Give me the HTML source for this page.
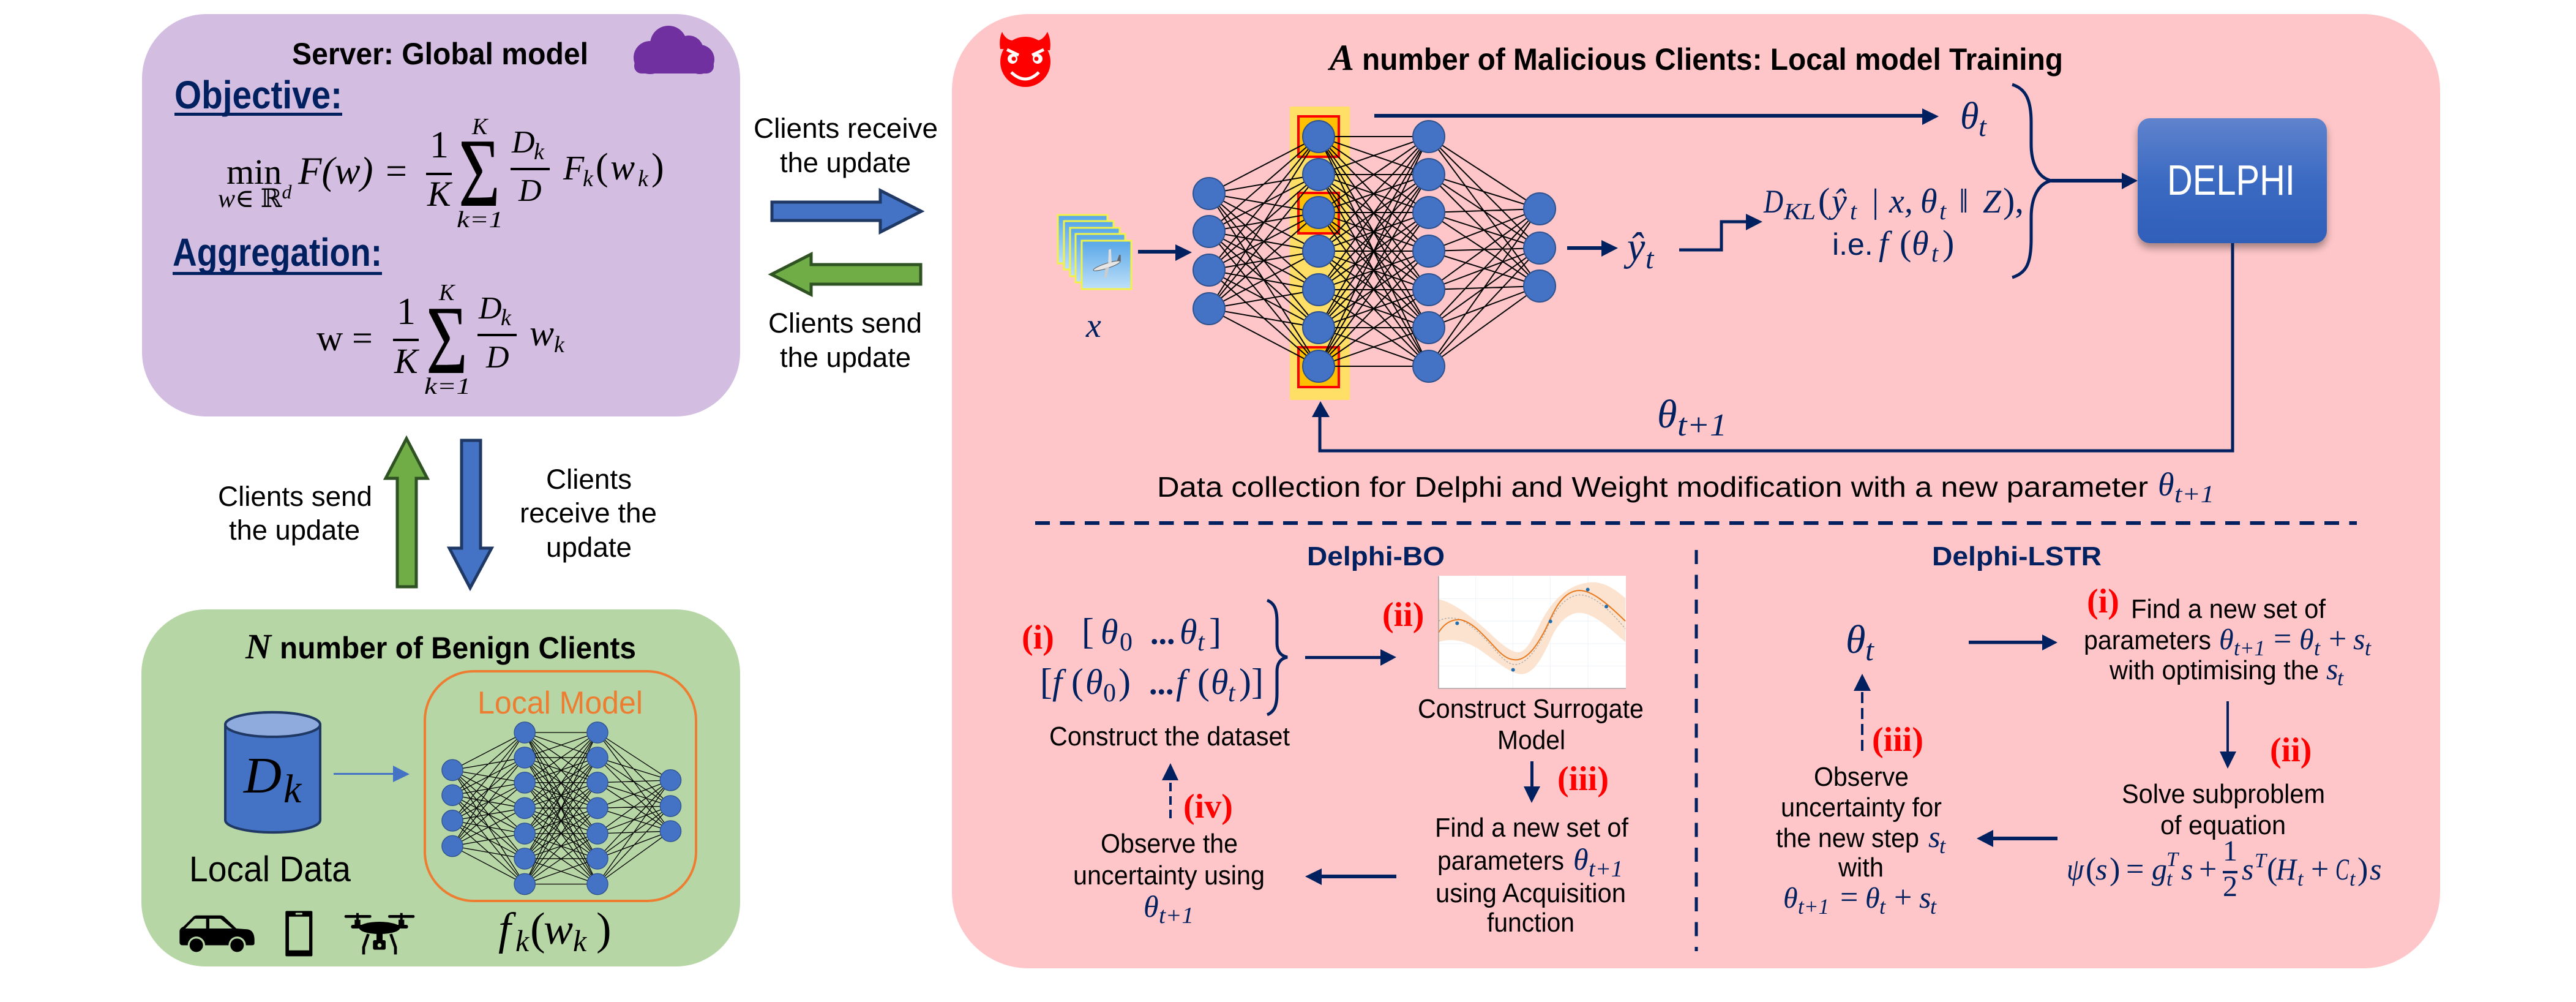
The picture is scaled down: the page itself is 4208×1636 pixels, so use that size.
<!DOCTYPE html>
<html><head><meta charset="utf-8"><style>
html,body{margin:0;padding:0;background:#fff}
svg{display:block}
.s{font-family:"Liberation Sans",sans-serif;font-size:45px;fill:#000}
.t{font-family:"Liberation Sans",sans-serif;font-weight:bold;font-size:50px;fill:#000}
.h{font-family:"Liberation Sans",sans-serif;font-weight:bold;fill:#002060}
.m{font-family:"Liberation Serif","DejaVu Serif",serif;font-style:italic;fill:#000}
.u{font-family:"Liberation Serif","DejaVu Serif",serif;fill:#000}
.n{fill:#002060}
.r{font-family:"Liberation Serif",serif;font-weight:bold;font-size:56px;fill:#f00}
.l{stroke:#002060;fill:none;stroke-width:5}
.a{fill:#002060}
</style></head><body>
<svg xmlns="http://www.w3.org/2000/svg" xmlns:xlink="http://www.w3.org/1999/xlink" width="4208" height="1636" viewBox="0 0 4208 1636">
<defs>
<linearGradient id="sky" x1="0" y1="0" x2="0" y2="1"><stop offset="0" stop-color="#57a6e8"/><stop offset="1" stop-color="#bfe0f8"/></linearGradient>
<linearGradient id="del" x1="0" y1="0" x2="0" y2="1"><stop offset="0" stop-color="#5f83cd"/><stop offset=".5" stop-color="#3b6ac2"/><stop offset="1" stop-color="#2f5fb9"/></linearGradient>
<filter id="sh" x="-10%" y="-10%" width="125%" height="125%"><feDropShadow dx="0" dy="8" stdDeviation="6" flood-color="#000" flood-opacity=".35"/></filter>
<g id="net">
<path fill="none" stroke="#000" stroke-width="2" d="
M0 93L179 0L0 93L179 62L0 93L179 124L0 93L179 187L0 93L179 250L0 93L179 312L0 93L179 375
M0 155L179 0L0 155L179 62L0 155L179 124L0 155L179 187L0 155L179 250L0 155L179 312L0 155L179 375
M0 218L179 0L0 218L179 62L0 218L179 124L0 218L179 187L0 218L179 250L0 218L179 312L0 218L179 375
M0 281L179 0L0 281L179 62L0 281L179 124L0 281L179 187L0 281L179 250L0 281L179 312L0 281L179 375
M179 0L359 0L179 0L359 62L179 0L359 124L179 0L359 187L179 0L359 250L179 0L359 312L179 0L359 375
M179 62L359 0L179 62L359 62L179 62L359 124L179 62L359 187L179 62L359 250L179 62L359 312L179 62L359 375
M179 124L359 0L179 124L359 62L179 124L359 124L179 124L359 187L179 124L359 250L179 124L359 312L179 124L359 375
M179 187L359 0L179 187L359 62L179 187L359 124L179 187L359 187L179 187L359 250L179 187L359 312L179 187L359 375
M179 250L359 0L179 250L359 62L179 250L359 124L179 250L359 187L179 250L359 250L179 250L359 312L179 250L359 375
M179 312L359 0L179 312L359 62L179 312L359 124L179 312L359 187L179 312L359 250L179 312L359 312L179 312L359 375
M179 375L359 0L179 375L359 62L179 375L359 124L179 375L359 187L179 375L359 250L179 375L359 312L179 375L359 375
M540 118L359 0L540 118L359 62L540 118L359 124L540 118L359 187L540 118L359 250L540 118L359 312L540 118L359 375
M540 182L359 0L540 182L359 62L540 182L359 124L540 182L359 187L540 182L359 250L540 182L359 312L540 182L359 375
M540 244L359 0L540 244L359 62L540 244L359 124L540 244L359 187L540 244L359 250L540 244L359 312L540 244L359 375"/>
<g fill="#4472c4" stroke="#2f528f" stroke-width="2">
<circle cx="0" cy="93" r="26"/><circle cx="0" cy="155" r="26"/><circle cx="0" cy="218" r="26"/><circle cx="0" cy="281" r="26"/>
<circle cx="179" cy="0" r="26"/><circle cx="179" cy="62" r="26"/><circle cx="179" cy="124" r="26"/><circle cx="179" cy="187" r="26"/><circle cx="179" cy="250" r="26"/><circle cx="179" cy="312" r="26"/><circle cx="179" cy="375" r="26"/>
<circle cx="359" cy="0" r="26"/><circle cx="359" cy="62" r="26"/><circle cx="359" cy="124" r="26"/><circle cx="359" cy="187" r="26"/><circle cx="359" cy="250" r="26"/><circle cx="359" cy="312" r="26"/><circle cx="359" cy="375" r="26"/>
<circle cx="540" cy="118" r="26"/><circle cx="540" cy="182" r="26"/><circle cx="540" cy="244" r="26"/>
</g>
</g>
</defs>

<!-- panels -->
<rect x="232" y="23" width="977" height="657" rx="105" ry="105" fill="#d3bde1"/>
<rect x="231" y="995" width="978" height="583" rx="105" ry="105" fill="#b7d6a5"/>
<rect x="1555" y="23" width="2431" height="1558" rx="125" ry="125" fill="#fec6c8"/>

<!-- server -->
<text class="t" x="477" y="105" textLength="484" lengthAdjust="spacingAndGlyphs">Server: Global model</text>
<g fill="#7030a0"><circle cx="1062" cy="94" r="27"/><circle cx="1092" cy="72" r="30"/><circle cx="1125" cy="82" r="24"/><circle cx="1143" cy="97" r="24"/><rect x="1036" y="95" width="130" height="25" rx="12"/></g>
<text class="h" font-size="64" x="285" y="177" textLength="274" lengthAdjust="spacingAndGlyphs">Objective:</text>
<rect x="285" y="184" width="274" height="5" fill="#002060"/>
<text class="h" font-size="64" x="282" y="434" textLength="342" lengthAdjust="spacingAndGlyphs">Aggregation:</text>
<rect x="282" y="444" width="342" height="5" fill="#002060"/>

<text class="u" font-size="58" x="370" y="300">min</text>
<text class="m" font-size="42" x="356" y="338">w∈ <tspan font-style="normal" font-family="DejaVu Serif">ℝ</tspan><tspan font-size="32" dy="-14">d</tspan></text>
<text class="m" font-size="63" x="487" y="300">F(w)</text>
<text class="u" font-size="62" x="630" y="300">=</text>
<text class="u" font-size="62" x="702" y="257">1</text>
<rect x="696" y="282" width="42" height="4"/>
<text class="m" font-size="58" x="698" y="336">K</text>
<text class="u" font-size="160" transform="translate(749,336) scale(.73,1)" x="0" y="0">Σ</text>
<text class="m" font-size="38" x="771" y="219">K</text>
<text class="m" font-size="38" x="746" y="371" textLength="76" lengthAdjust="spacingAndGlyphs">k=1</text>
<text class="m" font-size="52" x="836" y="249">D</text><text class="m" font-size="38" x="872" y="260">k</text>
<rect x="834" y="274" width="64" height="4"/>
<text class="m" font-size="52" x="847" y="328">D</text>
<text class="m" font-size="56" x="920" y="293">F</text><text class="m" font-size="38" x="952" y="304">k</text>
<text class="u" font-size="62" x="973" y="293">(</text><text class="m" font-size="60" x="997" y="293">w</text><text class="m" font-size="38" x="1042" y="304">k</text><text class="u" font-size="62" x="1064" y="293">)</text>

<text class="u" font-size="60" x="517" y="572">w</text>
<text class="u" font-size="60" x="575" y="572">=</text>
<text class="u" font-size="62" x="648" y="529">1</text>
<rect x="642" y="553" width="42" height="4"/>
<text class="m" font-size="58" x="644" y="609">K</text>
<text class="u" font-size="160" transform="translate(696,609) scale(.73,1)" x="0" y="0">Σ</text>
<text class="m" font-size="38" x="717" y="490">K</text>
<text class="m" font-size="38" x="693" y="643" textLength="76" lengthAdjust="spacingAndGlyphs">k=1</text>
<text class="m" font-size="52" x="782" y="520">D</text><text class="m" font-size="38" x="818" y="531">k</text>
<rect x="780" y="545" width="64" height="4"/>
<text class="m" font-size="52" x="794" y="600">D</text>
<text class="m" font-size="60" x="865" y="564">w</text><text class="m" font-size="38" x="905" y="575">k</text>

<!-- server <-> malicious -->
<text class="s" x="1231" y="225" textLength="301" lengthAdjust="spacingAndGlyphs">Clients receive</text>
<text class="s" x="1274" y="281" textLength="214" lengthAdjust="spacingAndGlyphs">the update</text>
<polygon points="1261,330 1438,330 1438,311 1505,345 1438,379 1438,360 1261,360" fill="#4472c4" stroke="#1f3864" stroke-width="5"/>
<polygon points="1504,432 1325,432 1325,415 1260,448 1325,481 1325,464 1504,464" fill="#70ad47" stroke="#2f5223" stroke-width="5"/>
<text class="s" x="1255" y="543" textLength="251" lengthAdjust="spacingAndGlyphs">Clients send</text>
<text class="s" x="1274" y="599" textLength="214" lengthAdjust="spacingAndGlyphs">the update</text>

<!-- server <-> benign -->
<polygon points="664,716 698,781 680,781 680,958 649,958 649,781 630,781" fill="#70ad47" stroke="#2f5223" stroke-width="5"/>
<polygon points="754,719 785,719 785,895 803,895 768,960 734,895 754,895" fill="#4472c4" stroke="#1f3864" stroke-width="5"/>
<text class="s" x="356" y="826" textLength="252" lengthAdjust="spacingAndGlyphs">Clients send</text>
<text class="s" x="374" y="881" textLength="214" lengthAdjust="spacingAndGlyphs">the update</text>
<text class="s" x="892" y="798" textLength="140" lengthAdjust="spacingAndGlyphs">Clients</text>
<text class="s" x="849" y="853" textLength="224" lengthAdjust="spacingAndGlyphs">receive the</text>
<text class="s" x="892" y="909" textLength="140" lengthAdjust="spacingAndGlyphs">update</text>

<!-- benign -->
<text class="m" font-size="58" font-weight="bold" x="401" y="1075">N</text>
<text class="t" x="457" y="1075" textLength="582" lengthAdjust="spacingAndGlyphs">number of Benign Clients</text>
<rect x="694" y="1096" width="443" height="375" rx="80" ry="80" fill="none" stroke="#ed7d31" stroke-width="4"/>
<text class="s" style="fill:#ed7d31;font-size:52px" x="780" y="1165" textLength="270" lengthAdjust="spacingAndGlyphs">Local Model</text>
<path d="M368 1183 L368 1339 A77 20 0 0 0 523 1339 L523 1183 A77 20 0 0 0 368 1183Z" fill="#4472c4" stroke="#1f3864" stroke-width="4"/>
<ellipse cx="445.500" cy="1183" rx="77.500" ry="20" fill="#8faadc" stroke="#1f3864" stroke-width="4"/>
<text class="m" font-size="84" x="398" y="1294" textLength="62" lengthAdjust="spacingAndGlyphs">D</text>
<text class="m" font-size="66" x="463" y="1310">k</text>
<rect x="545" y="1262" width="100" height="3" fill="#4472c4"/><polygon points="642,1250 669,1264 642,1277" fill="#4472c4"/>
<use xlink:href="#net" href="#net" transform="translate(739,1196) scale(.66)"/>
<text class="s" style="font-size:58px" x="309" y="1439" textLength="264" lengthAdjust="spacingAndGlyphs">Local Data</text>
<g transform="translate(280,1480) scale(.33333)">
<path fill="#000" d="M40 120Q40 108 60 98L108 50Q115 44 125 44L240 44Q250 44 258 50L318 108L375 112Q405 118 407 160L407 180Q407 190 395 190L365 190A42 42 0 0 0 280 190L165 190A42 42 0 0 0 80 190L55 190Q40 190 40 175Z"/>
<path fill="#b7d6a5" d="M68 108L115 60L170 60L170 108ZM186 60L240 60L298 108L186 108Z"/>
<circle cx="122" cy="190" r="33"/><circle cx="322" cy="190" r="33"/>
<rect x="559" y="22" width="132" height="222" rx="6"/><rect x="576" y="50" width="99" height="165" fill="#b7d6a5"/><rect x="608" y="31" width="34" height="9" rx="4" fill="#b7d6a5"/>
<rect x="848" y="42" width="132" height="14" rx="7"/><rect x="1062" y="42" width="130" height="14" rx="7"/>
<rect x="906" y="32" width="12" height="60"/><rect x="1121" y="32" width="12" height="60"/>
<rect x="898" y="65" width="28" height="30"/><rect x="1113" y="65" width="28" height="30"/>
<rect x="880" y="90" width="280" height="18" rx="9"/><ellipse cx="1020" cy="105" rx="100" ry="30"/>
<path d="M965 135L942 200L942 235M1075 135L1098 200L1098 235" fill="none" stroke="#000" stroke-width="14"/>
<rect x="1005" y="130" width="30" height="40"/><rect x="988" y="165" width="62" height="47" rx="8"/><circle cx="1020" cy="190" r="10" fill="#b7d6a5"/>
</g>
<text class="m" font-size="74" x="814" y="1541">f</text><text class="m" font-size="50" x="842" y="1553">k</text>
<text class="u" font-size="74" x="866" y="1541">(</text><text class="m" font-size="72" x="888" y="1541">w</text><text class="m" font-size="50" x="936" y="1553">k</text><text class="u" font-size="74" x="974" y="1541">)</text>

<!-- malicious header -->
<g fill="#f00">
<path d="M1634 80C1632 68 1634 58 1637 52C1641 62 1650 68 1660 66L1690 66C1698 68 1706 62 1711 52C1715 60 1717 70 1715 82Z"/>
<ellipse cx="1675" cy="101" rx="41" ry="41"/>
</g>
<g fill="#fff"><circle cx="1654" cy="96" r="8"/><circle cx="1695" cy="96" r="8"/></g>
<g fill="#f00"><circle cx="1656" cy="96" r="3.500"/><circle cx="1693" cy="96" r="3.500"/></g>
<path d="M1645 81L1664 90M1705 81L1686 90M1652 118Q1675 140 1697 118" fill="none" stroke="#fff" stroke-width="5"/>
<text class="m" font-size="60" font-weight="bold" x="2172" y="114">A</text>
<text class="t" x="2225" y="114" textLength="1145" lengthAdjust="spacingAndGlyphs">number of Malicious Clients: Local model Training</text>

<!-- images -->
<g stroke="#f0f24a" stroke-width="3" fill="url(#sky)">
<rect x="1728" y="351" width="81" height="79"/><rect x="1738" y="361" width="81" height="79"/><rect x="1748" y="372" width="81" height="79"/><rect x="1757" y="382" width="81" height="79"/><rect x="1767" y="393" width="81" height="79"/>
</g>
<g transform="translate(1808,434) rotate(-18)">
<ellipse cx="0" cy="0" rx="23" ry="4" fill="#e6e6e6" stroke="#555" stroke-width="1"/>
<polygon points="3,-2 11,-24 15,-24 9,-2" fill="#ddd"/>
<polygon points="-3,2 -10,18 -6,18 3,3" fill="#ccc"/>
<polygon points="18,-2 25,-11 27,-10 24,0" fill="#666"/>
</g>
<text class="m n" font-size="56" x="1774" y="550">x</text>
<rect x="1859" y="408" width="65" height="6" fill="#002060"/><polygon class="a" points="1920,399 1947,412 1920,426"/>

<!-- big network -->
<rect x="2107" y="174" width="98" height="479" fill="#ffdf66"/>
<g fill="#ffc000" stroke="#f00" stroke-width="4">
<rect x="2121" y="190" width="66" height="66"/><rect x="2121" y="315" width="66" height="66"/><rect x="2121" y="567" width="66" height="65"/>
</g>
<use xlink:href="#net" href="#net" transform="translate(1975,223)"/>

<!-- top arrows -->
<rect x="2245" y="186" width="900" height="6" fill="#002060"/><polygon class="a" points="3140,177 3167,190 3140,204"/>
<text class="m n" font-size="62" x="3202" y="210">θ</text><text class="m n" font-size="46" x="3232" y="222">t</text>
<rect x="2560" y="402" width="60" height="6" fill="#002060"/><polygon class="a" points="2616,392 2643,405 2616,419"/>
<text class="m n" font-size="66" x="2658" y="425">ŷ</text><text class="m n" font-size="48" x="2688" y="438">t</text>
<path class="l" d="M2743 408L2812 408L2812 362L2856 362"/><polygon class="a" points="2852,349 2879,362 2852,376"/>
<g class="n">
<text class="m n" font-size="54" x="2881" y="347" textLength="32" lengthAdjust="spacingAndGlyphs">D</text><text class="m n" font-size="38" x="2914" y="358" textLength="52" lengthAdjust="spacingAndGlyphs">KL</text>
<text class="u n" font-size="58" x="2970" y="347">(</text><text class="m n" font-size="56" x="2992" y="347">ŷ</text><text class="m n" font-size="40" x="3022" y="358">t</text>
<text class="u n" font-size="56" x="3058" y="347">|</text><text class="m n" font-size="56" x="3086" y="347">x,</text><text class="m n" font-size="56" x="3137" y="347">θ</text><text class="m n" font-size="40" x="3168" y="358">t</text>
<text class="u n" font-size="56" x="3200" y="347">‖</text><text class="m n" font-size="54" x="3239" y="347" textLength="30" lengthAdjust="spacingAndGlyphs">Z</text><text class="u n" font-size="58" x="3272" y="347">),</text>
<text class="s n" style="font-size:50px" x="2993" y="416">i.e.</text><text class="m n" font-size="56" x="3069" y="416">f</text><text class="u n" font-size="58" x="3103" y="416">(</text><text class="m n" font-size="56" x="3123" y="416">θ</text><text class="m n" font-size="40" x="3155" y="427">t</text><text class="u n" font-size="58" x="3173" y="416">)</text>
</g>
<path class="l" d="M3287 138C3310 145 3318 165 3318 200L3318 235C3318 265 3328 290 3351 295C3328 300 3318 325 3318 355L3318 390C3318 430 3310 446 3287 453"/>
<rect x="3351" y="292" width="120" height="6" fill="#002060"/><polygon class="a" points="3466,282 3492,295 3466,309"/>
<rect x="3492" y="193" width="309" height="204" rx="20" ry="20" fill="url(#del)" filter="url(#sh)"/>
<text class="s" style="fill:#fff;font-size:70px" x="3540" y="318" textLength="209" lengthAdjust="spacingAndGlyphs">DELPHI</text>
<path class="l" d="M3647 397L3647 736L2156 736L2156 676"/><polygon class="a" points="2143,681 2157,655 2172,681"/>
<text class="m n" font-size="66" x="2707" y="698">θ</text><text class="m n" font-size="52" x="2740" y="711" textLength="81" lengthAdjust="spacingAndGlyphs">t+1</text>
<text class="s" style="font-size:46px" x="1890" y="811" textLength="1619" lengthAdjust="spacingAndGlyphs">Data collection for Delphi and Weight modification with a new parameter</text>
<text class="m n" font-size="54" x="3525" y="809">θ</text><text class="m n" font-size="40" x="3552" y="820" textLength="65" lengthAdjust="spacingAndGlyphs">t+1</text>

<!-- dividers -->
<path d="M1691 854L3850 854" stroke="#002060" stroke-width="6" stroke-dasharray="24 16.500" fill="none"/>
<path d="M2771 898L2771 1553" stroke="#002060" stroke-width="5" stroke-dasharray="23 17.500" fill="none"/>

<!-- Delphi-BO -->
<text class="h" font-size="44" x="2135" y="923" textLength="225" lengthAdjust="spacingAndGlyphs">Delphi-BO</text>
<text class="r" x="1669" y="1059">(i)</text>
<text class="u n" font-size="60" x="1767" y="1051">[</text><text class="m n" font-size="58" x="1798" y="1051">θ</text><text class="u n" font-size="42" x="1829" y="1062">0</text>
<text class="u n" font-size="54" font-weight="bold" x="1879" y="1051">...</text><text class="m n" font-size="58" x="1927" y="1051">θ</text><text class="m n" font-size="42" x="1956" y="1062">t</text><text class="u n" font-size="60" x="1975" y="1051">]</text>
<text class="u n" font-size="60" x="1699" y="1133">[</text><text class="m n" font-size="58" x="1719" y="1133">f</text><text class="u n" font-size="60" x="1750" y="1133">(</text><text class="m n" font-size="58" x="1773" y="1133">θ</text><text class="u n" font-size="42" x="1802" y="1145">0</text><text class="u n" font-size="60" x="1827" y="1133">)</text>
<text class="u n" font-size="54" font-weight="bold" x="1877" y="1133">...</text><text class="m n" font-size="58" x="1921" y="1133">f</text><text class="u n" font-size="60" x="1956" y="1133">(</text><text class="m n" font-size="58" x="1978" y="1133">θ</text><text class="m n" font-size="42" x="2006" y="1145">t</text><text class="u n" font-size="60" x="2024" y="1133">)]</text>
<path class="l" d="M2070 980C2082 985 2086 995 2086 1015L2086 1050C2086 1063 2092 1071 2103 1073C2092 1075 2086 1083 2086 1096L2086 1132C2086 1152 2082 1162 2070 1167"/>
<rect x="2132" y="1071" width="128" height="5" fill="#002060"/><polygon class="a" points="2255,1060 2281,1073 2255,1087"/>
<text class="r" x="2258" y="1022">(ii)</text>
<rect x="2350" y="940" width="306" height="184" fill="#fff"/>
<g transform="translate(2340,930) scale(.33333)">
<path d="M212 32V582M394 32V582M577 32V582M762 32V582M30 142H948M30 252H948M30 363H948M30 473H948" stroke="#eef3f8" stroke-width="3" fill="none"/>
<path d="M30 145C100 160 180 220 280 310C340 370 390 405 420 405C460 405 490 340 530 260C590 140 680 62 790 62C850 65 900 100 945 140L945 355C870 290 790 212 720 212C660 212 610 270 580 340C530 450 490 512 435 512C380 512 290 430 220 385C150 345 90 335 30 355Z" fill="#fce3cf"/>
<path d="M30 252C60 235 90 235 120 240C190 260 270 350 330 420C360 450 380 465 405 465C460 465 520 380 560 290C600 190 660 122 730 124C800 130 880 210 945 290" fill="none" stroke="#a9a9a9" stroke-width="4" stroke-dasharray="8 8"/>
<path d="M30 308C60 260 95 245 130 245C190 250 250 320 310 385C350 430 380 442 410 442C470 440 520 360 560 280C600 190 640 105 720 102C780 102 850 160 945 252" fill="none" stroke="#e8791f" stroke-width="6"/>
<g fill="#1f6fb0"><circle cx="121" cy="263" r="9"/><circle cx="395" cy="491" r="9"/><circle cx="578" cy="254" r="9"/><circle cx="761" cy="98" r="9"/><circle cx="852" cy="181" r="9"/></g>
<path d="M30 32V582H948" stroke="#999" stroke-width="4" fill="none"/>
</g>
<text class="s" style="font-size:44px" x="1714" y="1217" textLength="393" lengthAdjust="spacingAndGlyphs">Construct the dataset</text>
<text class="s" style="font-size:44px" x="2316" y="1172" textLength="369" lengthAdjust="spacingAndGlyphs">Construct Surrogate</text>
<text class="s" style="font-size:44px" x="2446" y="1223" textLength="111" lengthAdjust="spacingAndGlyphs">Model</text>
<rect x="2500" y="1243" width="5" height="45" fill="#002060"/><polygon class="a" points="2489,1284 2516,1284 2502,1311"/>
<text class="r" x="2544" y="1290">(iii)</text>
<text class="s" style="font-size:44px" x="2344" y="1366" textLength="316" lengthAdjust="spacingAndGlyphs">Find a new set of</text>
<text class="s" style="font-size:44px" x="2348" y="1420" textLength="207" lengthAdjust="spacingAndGlyphs">parameters</text>
<text class="m n" font-size="50" x="2570" y="1420">θ</text><text class="m n" font-size="38" x="2595" y="1431" textLength="56" lengthAdjust="spacingAndGlyphs">t+1</text>
<text class="s" style="font-size:44px" x="2345" y="1473" textLength="311" lengthAdjust="spacingAndGlyphs">using Acquisition</text>
<text class="s" style="font-size:44px" x="2429" y="1521" textLength="143" lengthAdjust="spacingAndGlyphs">function</text>
<rect x="2155" y="1428" width="126" height="6" fill="#002060"/><polygon class="a" points="2159,1418 2159,1445 2132,1431"/>
<text class="s" style="font-size:44px" x="1798" y="1392" textLength="224" lengthAdjust="spacingAndGlyphs">Observe the</text>
<text class="s" style="font-size:44px" x="1753" y="1444" textLength="313" lengthAdjust="spacingAndGlyphs">uncertainty using</text>
<text class="m n" font-size="50" x="1868" y="1497">θ</text><text class="m n" font-size="38" x="1893" y="1507" textLength="57" lengthAdjust="spacingAndGlyphs">t+1</text>
<path d="M1912 1336L1912 1272" stroke="#002060" stroke-width="4" stroke-dasharray="14 8" fill="none"/><polygon class="a" points="1898,1274 1912,1246 1925,1274"/>
<text class="r" x="1933" y="1335">(iv)</text>

<!-- Delphi-LSTR -->
<text class="h" font-size="44" x="3156" y="923" textLength="277" lengthAdjust="spacingAndGlyphs">Delphi-LSTR</text>
<text class="m n" font-size="66" x="3015" y="1066">θ</text><text class="m n" font-size="50" x="3047" y="1078">t</text>
<rect x="3216" y="1046" width="124" height="5.500" fill="#002060"/><polygon class="a" points="3336,1036 3361,1049 3336,1062"/>
<text class="r" x="3409" y="1000">(i)</text>
<text class="s" style="font-size:44px" x="3481" y="1009" textLength="318" lengthAdjust="spacingAndGlyphs">Find a new set of</text>
<text class="s" style="font-size:44px" x="3404" y="1060" textLength="208" lengthAdjust="spacingAndGlyphs">parameters</text>
<text class="m n" font-size="48" x="3625" y="1060">θ</text><text class="m n" font-size="36" x="3649" y="1070" textLength="51" lengthAdjust="spacingAndGlyphs">t+1</text>
<text class="u n" font-size="52" x="3714" y="1060">=</text><text class="m n" font-size="48" x="3756" y="1060">θ</text><text class="m n" font-size="36" x="3780" y="1070">t</text>
<text class="u n" font-size="52" x="3804" y="1060">+</text><text class="m n" font-size="50" x="3844" y="1060">s</text><text class="m n" font-size="36" x="3863" y="1070">t</text>
<text class="s" style="font-size:44px" x="3446" y="1109" textLength="342" lengthAdjust="spacingAndGlyphs">with optimising the</text>
<text class="m n" font-size="50" x="3800" y="1109">s</text><text class="m n" font-size="36" x="3818" y="1119">t</text>
<rect x="3637" y="1145" width="4" height="85" fill="#002060"/><polygon class="a" points="3626,1227 3653,1227 3639,1255"/>
<text class="r" x="3708" y="1243">(ii)</text>
<text class="s" style="font-size:44px" x="3466" y="1311" textLength="332" lengthAdjust="spacingAndGlyphs">Solve subproblem</text>
<text class="s" style="font-size:44px" x="3529" y="1362" textLength="205" lengthAdjust="spacingAndGlyphs">of equation</text>
<text class="m n" font-size="50" x="3376" y="1436" textLength="28" lengthAdjust="spacingAndGlyphs">ψ</text><text class="u n" font-size="52" x="3407" y="1436">(</text><text class="m n" font-size="50" x="3423" y="1436">s</text><text class="u n" font-size="52" x="3446" y="1436">)</text>
<text class="u n" font-size="52" x="3473" y="1436">=</text><text class="m n" font-size="50" x="3515" y="1436">g</text><text class="m n" font-size="34" x="3539" y="1414">T</text><text class="m n" font-size="34" x="3539" y="1446">t</text><text class="m n" font-size="50" x="3563" y="1436">s</text>
<text class="u n" font-size="52" x="3592" y="1436">+</text><text class="u n" font-size="48" x="3631" y="1405">1</text><rect x="3631" y="1422" width="24" height="4" fill="#002060"/><text class="u n" font-size="48" x="3631" y="1463">2</text>
<text class="m n" font-size="50" x="3662" y="1436">s</text><text class="m n" font-size="34" x="3683" y="1416">T</text><text class="u n" font-size="52" x="3703" y="1436">(</text><text class="m n" font-size="50" x="3718" y="1436" textLength="33" lengthAdjust="spacingAndGlyphs">H</text><text class="m n" font-size="34" x="3753" y="1446">t</text>
<text class="u n" font-size="52" x="3775" y="1436">+</text><text class="m n" font-size="50" x="3815" y="1436" textLength="22" lengthAdjust="spacingAndGlyphs">C</text><text class="m n" font-size="34" x="3838" y="1446">t</text><text class="u n" font-size="52" x="3851" y="1436">)</text><text class="m n" font-size="50" x="3871" y="1436">s</text>
<rect x="3255" y="1366" width="106" height="6" fill="#002060"/><polygon class="a" points="3256,1355 3256,1383 3229,1369"/>
<text class="s" style="font-size:44px" x="2963" y="1283" textLength="155" lengthAdjust="spacingAndGlyphs">Observe</text>
<text class="s" style="font-size:44px" x="2909" y="1333" textLength="263" lengthAdjust="spacingAndGlyphs">uncertainty for</text>
<text class="s" style="font-size:44px" x="2901" y="1383" textLength="234" lengthAdjust="spacingAndGlyphs">the new step</text>
<text class="m n" font-size="50" x="3150" y="1383">s</text><text class="m n" font-size="36" x="3168" y="1393">t</text>
<text class="s" style="font-size:44px" x="3003" y="1431" textLength="74" lengthAdjust="spacingAndGlyphs">with</text>
<text class="m n" font-size="48" x="2913" y="1482">θ</text><text class="m n" font-size="36" x="2937" y="1492" textLength="51" lengthAdjust="spacingAndGlyphs">t+1</text>
<text class="u n" font-size="52" x="3006" y="1482">=</text><text class="m n" font-size="48" x="3047" y="1482">θ</text><text class="m n" font-size="36" x="3070" y="1492">t</text>
<text class="u n" font-size="52" x="3094" y="1482">+</text><text class="m n" font-size="50" x="3135" y="1482">s</text><text class="m n" font-size="36" x="3153" y="1492">t</text>
<path d="M3042 1226L3042 1126" stroke="#002060" stroke-width="4" stroke-dasharray="18 8" fill="none"/><polygon class="a" points="3028,1128 3042,1100 3056,1128"/>
<text class="r" x="3058" y="1226">(iii)</text>
</svg>
</body></html>
